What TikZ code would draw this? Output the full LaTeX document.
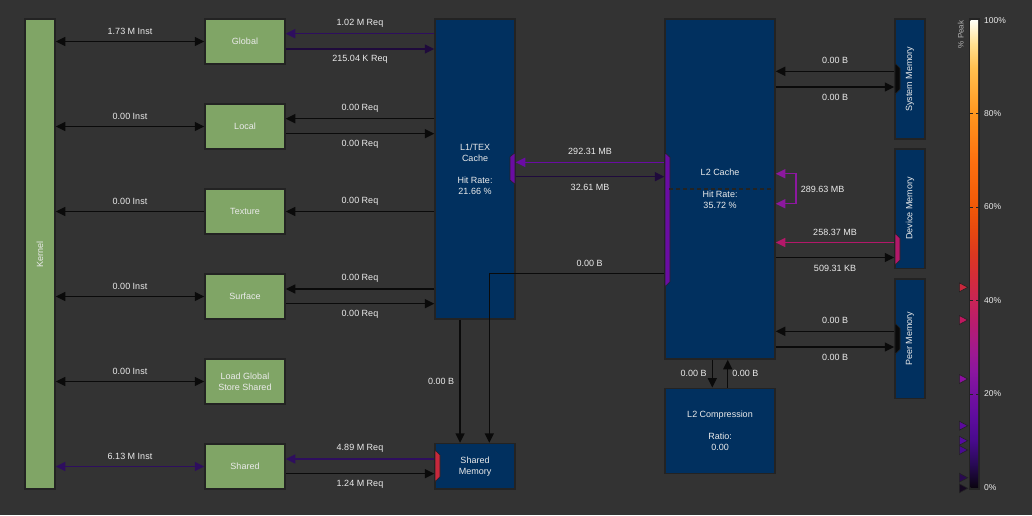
\documentclass[tikz,border=0pt]{standalone}
\usepackage{fontspec}
\setmainfont{Liberation Sans}
\usetikzlibrary{arrows.meta,calc}
\definecolor{bg}{HTML}{333333}
\definecolor{bd}{HTML}{232323}
\definecolor{grn}{HTML}{80A566}
\definecolor{blu}{HTML}{01305F}
\definecolor{txt}{HTML}{EBEBEB}
\definecolor{cdkA}{HTML}{2E0E5E}
\definecolor{cdkB}{HTML}{1F0A3C}
\definecolor{cpur}{HTML}{6A0CA3}
\definecolor{cloop}{HTML}{8C189F}
\definecolor{cmag}{HTML}{B4186A}
\definecolor{cred}{HTML}{C8283C}
\definecolor{cblk}{HTML}{0A0A0A}
% colour map
\definecolor{s00}{HTML}{0A0410}
\definecolor{s05}{HTML}{280A55}
\definecolor{s10}{HTML}{480A8C}
\definecolor{s15}{HTML}{5E0C9E}
\definecolor{s20}{HTML}{7410A0}
\definecolor{s25}{HTML}{8C16A0}
\definecolor{s30}{HTML}{A21A8C}
\definecolor{s35}{HTML}{B81C70}
\definecolor{s40}{HTML}{C82456}
\definecolor{s45}{HTML}{D42C3A}
\definecolor{s50}{HTML}{DC3820}
\definecolor{s55}{HTML}{E64810}
\definecolor{s60}{HTML}{F05808}
\definecolor{s70}{HTML}{FC7010}
\definecolor{s80}{HTML}{FF961E}
\definecolor{s90}{HTML}{FFC050}
\definecolor{s95}{HTML}{FFE090}
\definecolor{s100}{HTML}{FFFFF4}
\definecolor{mkA}{HTML}{C8283C}
\definecolor{mkB}{HTML}{C0185F}
\definecolor{mkC}{HTML}{8C10A0}
\definecolor{mkD}{HTML}{5C0A9C}
\definecolor{mkE}{HTML}{560AA0}
\definecolor{mkF}{HTML}{4A0A90}
\definecolor{mkG}{HTML}{2A0A50}
\definecolor{mkH}{HTML}{150820}
\pgfdeclareverticalshading{peakshade}{100bp}{color(0bp)=(s00); color(25bp)=(s00); color(27.5bp)=(s05); color(30bp)=(s10); color(32.5bp)=(s15); color(35bp)=(s20); color(37.5bp)=(s25); color(40bp)=(s30); color(42.5bp)=(s35); color(45bp)=(s40); color(47.5bp)=(s45); color(50bp)=(s50); color(52.5bp)=(s55); color(55bp)=(s60); color(60bp)=(s70); color(65bp)=(s80); color(70bp)=(s90); color(72.5bp)=(s95); color(75bp)=(s100); color(100bp)=(s100)}
\tikzset{
  box/.style={draw=bd, line width=1.5pt, inner sep=0pt, text=txt, align=center},
  gbox/.style={box, fill=grn},
  bbox/.style={box, fill=blu},
  lbl/.style={text=txt, inner sep=1pt},
  lab/.style={lbl, midway, yshift=10.5pt},
  labd/.style={lbl, midway, yshift=-10.5pt},
  one/.style={line width=1.5pt, draw=cblk, -{Triangle[length=9.5pt,width=9pt]}},
  bi/.style={line width=1.5pt, draw=cblk, {Triangle[length=9.5pt,width=9pt]}-{Triangle[length=9.5pt,width=9pt]}},
  port/.style={draw=bd, line width=0.6pt},
  tickmark/.style={draw=bd, line width=1pt, dash pattern=on 4pt off 3pt},
  scl/.style={text=txt, font=\fontsize{8.5}{10}\selectfont, anchor=west, inner sep=0pt}
}
\begin{document}
\begin{tikzpicture}[x=1pt,y=-1pt, font=\fontsize{9}{11}\selectfont]
\fill[bg] (0,0) rectangle (1032,515);
\useasboundingbox (0,0) rectangle (1032,515);

% ---- nodes
\node[gbox, minimum width=30pt, minimum height=470pt] (kern) at (40,254) {};
\node[lbl, rotate=90] (kernt) at (kern.center) {Kernel};
\node[gbox, minimum width=80pt, minimum height=45pt] (glob) at (245,41.5) {Global};
\node[gbox, minimum width=80pt, minimum height=45pt] (loc) at (245,126.5) {Local};
\node[gbox, minimum width=80pt, minimum height=45pt] (tex) at (245,211.5) {Texture};
\node[gbox, minimum width=80pt, minimum height=45pt] (surf) at (245,296.5) {Surface};
\node[gbox, minimum width=80pt, minimum height=45pt] (lgss) at (245,381.5) {Load Global\\Store Shared};
\node[gbox, minimum width=80pt, minimum height=45pt] (shr) at (245,466.5) {Shared};

\node[bbox, minimum width=80pt, minimum height=300pt] (l1) at (475,169) {L1/TEX\\Cache\\[11pt]Hit Rate:\\21.66 \%};
\node[bbox, minimum width=80pt, minimum height=45.5pt] (shm) at (475,466.3) {Shared\\Memory};
\node[bbox, minimum width=110pt, minimum height=340pt] (l2) at (720,189) {};
\node[lbl] (l2t) at (720,172.7) {L2 Cache};
\node[lbl, align=center] (l2h) at (720,200) {Hit Rate:\\35.72 \%};
\node[bbox, minimum width=110pt, minimum height=85.4pt] (l2c) at (720,431) {L2 Compression\\[11pt]Ratio:\\0.00};
\node[bbox, minimum width=30pt, minimum height=120pt] (sysm) at (910,79) {};
\node[lbl, rotate=90] (sysmt) at (sysm.center) {System Memory};
\node[bbox, minimum width=30pt, minimum height=119.3pt] (devm) at (910,208.7) {};
\node[lbl, rotate=90] (devmt) at (devm.center) {Device Memory};
\node[bbox, minimum width=30pt, minimum height=119.3pt] (peer) at (910,338.7) {};
\node[lbl, rotate=90] (peert) at (peer.center) {Peer Memory};

% ---- ports
\fill[cpur, port] (510,156.7) -- (515,152.7) -- (515,184.3) -- (510,180) -- cycle;
\fill[cpur, port] (665,152.7) -- (670,157.3) -- (670,281.7) -- (665,286.7) -- cycle;
\fill[cred, port] (435,450) -- (440,455) -- (440,476.7) -- (435,481.7) -- cycle;
\fill[cblk, port] (895,63.3) -- (900,68.3) -- (900,89.3) -- (895,94.3) -- cycle;
\fill[cmag, port] (895,233.3) -- (900,238.3) -- (900,260) -- (895,265) -- cycle;
\fill[cblk, port] (895,323.3) -- (900,328.3) -- (900,349.3) -- (895,354.3) -- cycle;
\draw[bd, line width=1.2pt, dash pattern=on 4pt off 3pt] ([xshift=5pt]l2.west) -- (l2.east);

% ---- kernel connectors
\draw[bi] (kern.east |- glob.west) -- (glob.west) node[lab]{1.73 M Inst};
\draw[bi] (kern.east |- loc.west) -- (loc.west) node[lab]{0.00 Inst};
\draw[one] (tex.west) -- (kern.east |- tex.west) node[lab]{0.00 Inst};
\draw[bi] (kern.east |- surf.west) -- (surf.west) node[lab]{0.00 Inst};
\draw[bi] (kern.east |- lgss.west) -- (lgss.west) node[lab]{0.00 Inst};
\draw[bi, draw=cdkA] (kern.east |- shr.west) -- (shr.west) node[lab]{6.13 M Inst};

% ---- L1 connectors
\draw[one, draw=cdkA] ([yshift=7.8pt]glob.east -| l1.west) -- ([yshift=7.8pt]glob.east) node[lab]{1.02 M Req};
\draw[one, draw=cdkB] ([yshift=-7.5pt]glob.east) -- ([yshift=-7.5pt]glob.east -| l1.west) node[labd]{215.04 K Req};
\draw[one] ([yshift=7.8pt]loc.east -| l1.west) -- ([yshift=7.8pt]loc.east) node[lab]{0.00 Req};
\draw[one] ([yshift=-7.2pt]loc.east) -- ([yshift=-7.2pt]loc.east -| l1.west) node[labd]{0.00 Req};
\draw[one] (tex.east -| l1.west) -- (tex.east) node[lab]{0.00 Req};
\draw[one] ([yshift=7.5pt]surf.east -| l1.west) -- ([yshift=7.5pt]surf.east) node[lab]{0.00 Req};
\draw[one] ([yshift=-7.2pt]surf.east) -- ([yshift=-7.2pt]surf.east -| l1.west) node[labd]{0.00 Req};
\draw[one, draw=cdkA] ([yshift=7.5pt]shr.east -| shm.west) -- ([yshift=7.5pt]shr.east) node[lab]{4.89 M Req};
\draw[one] ([yshift=-7.2pt]shr.east) -- ([yshift=-7.2pt]shr.east -| shm.west) node[labd]{1.24 M Req};

% ---- L1 / L2
\draw[one, draw=cpur] ([yshift=6.7pt]l1.east -| l2.west) -- ([yshift=6.7pt]l1.east) node[lab]{292.31 MB};
\draw[one, draw=cdkB] ([yshift=-7.7pt]l1.east) -- ([yshift=-7.7pt]l1.east -| l2.west) node[labd]{32.61 MB};
\draw[one] ([xshift=-15pt]l1.south) -- ([xshift=-15pt]shm.north) node[lbl, midway, left=4pt]{0.00 B};
\coordinate (l2p) at ([yshift=-84.7pt]l2.west);
\coordinate (cn) at ([xshift=14.3pt]shm.north |- l2p);
\draw[one] (l2p) -- (cn) node[lbl, pos=0.427, yshift=10.5pt]{0.00 B} -- ([xshift=14.3pt]shm.north);

% ---- L2 loop
\draw[bi, draw=cloop] ([yshift=15.3pt]l2.east) -- ++(20,0) |- ([yshift=-14.7pt]l2.east);
\node[lbl, anchor=west] (loopl) at ([xshift=24pt]l2.east) {289.63 MB};

% ---- L2 / memories
\draw[one] ([yshift=7.7pt]sysm.west) -- ([yshift=7.7pt]sysm.west -| l2.east) node[lab]{0.00 B};
\draw[one] ([yshift=-8pt]sysm.west -| l2.east) -- ([yshift=-8pt]sysm.west) node[labd]{0.00 B};
\draw[one, draw=cmag] ([yshift=26.6pt]devm.south west) -- ([yshift=26.6pt]devm.south west -| l2.east) node[lab]{258.37 MB};
\draw[one] ([yshift=11.6pt]devm.south west -| l2.east) -- ([yshift=11.6pt]devm.south west) node[labd]{509.31 KB};
\draw[one] ([yshift=7.4pt]peer.west) -- ([yshift=7.4pt]peer.west -| l2.east) node[lab]{0.00 B};
\draw[one] ([yshift=-8.3pt]peer.west -| l2.east) -- ([yshift=-8.3pt]peer.west) node[labd]{0.00 B};

% ---- L2 / compression
\draw[one] ([xshift=-7.7pt]l2.south) -- ([xshift=-7.7pt]l2c.north) node[lbl, midway, left=4pt]{0.00 B};
\draw[one] ([xshift=7.7pt]l2c.north) -- ([xshift=7.7pt]l2.south) node[lbl, midway, right=3pt]{0.00 B};

% ---- colour scale
\fill[bd] (969,18.3) rectangle (979.5,489.5);
\shade[shading=peakshade] (970.7,20.7) rectangle (978,487.3);
\foreach \yy in {113.3,207,300.3,394} \draw[tickmark] (969,\yy) -- (980,\yy);
\node[scl] (p100) at (984,20.7) {100\%};
\node[scl] (p80) at (984,113.3) {80\%};
\node[scl] (p60) at (984,207) {60\%};
\node[scl] (p40) at (984,300.3) {40\%};
\node[scl] (p20) at (984,394) {20\%};
\node[scl] (p0) at (984,487.3) {0\%};
\node[rotate=90, text=txt!70!bg, font=\fontsize{8}{10}\selectfont, inner sep=0pt] (peak) at (960.7,34.5) {\% Peak};
\foreach \yy/\cc in {287.3/mkA,320/mkB,379/mkC,425.7/mkD,440.7/mkE,450/mkF,477.7/mkG,488.3/mkH}
  \filldraw[draw=bd, line width=0.6pt, fill=\cc] (959.3,\yy-4.5) -- (967.7,\yy) -- (959.3,\yy+4.5) -- cycle;
\end{tikzpicture}
\end{document}
